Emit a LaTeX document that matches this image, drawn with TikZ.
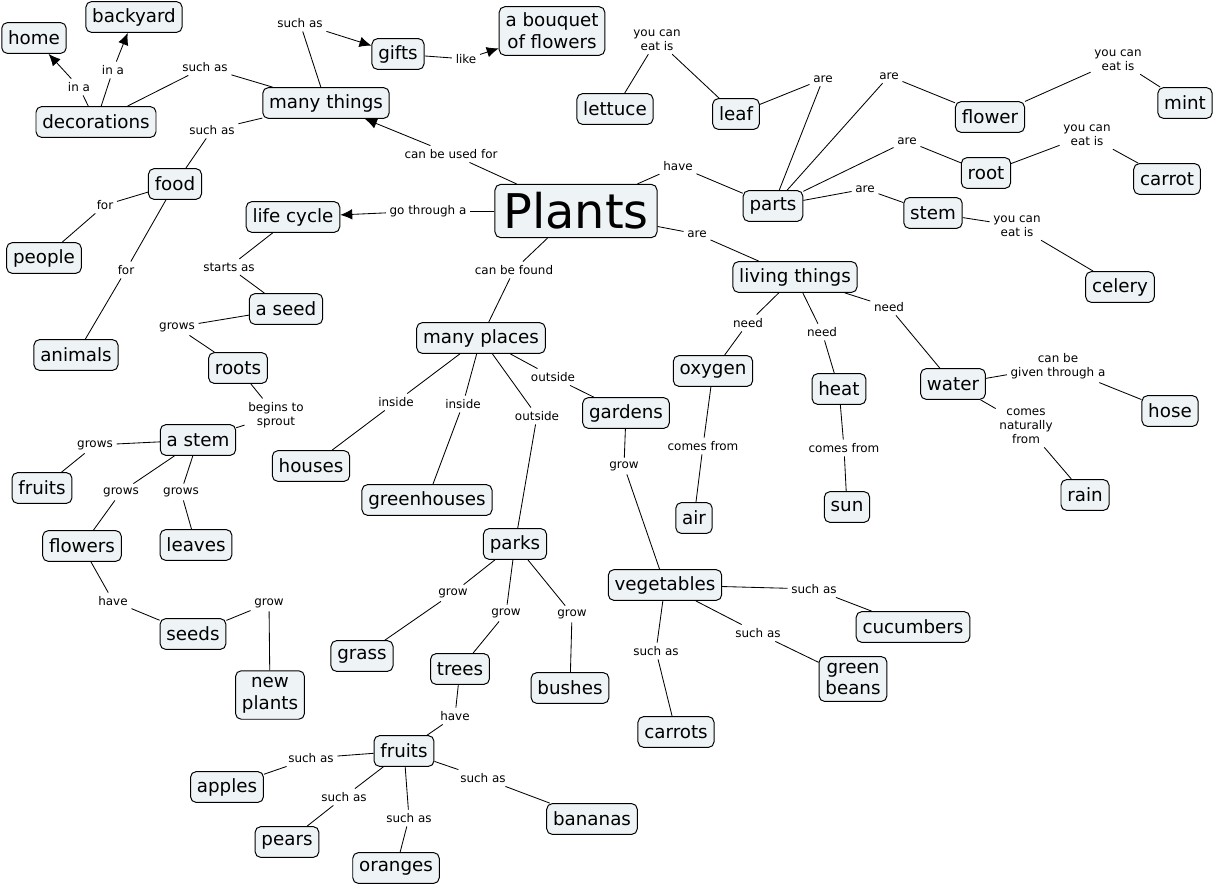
\documentclass[tikz,border=0pt]{standalone}
\usepackage{fontspec}
\setmainfont{DejaVu Sans}
\usetikzlibrary{arrows.meta}
\definecolor{conceptfill}{HTML}{EEF3F5}

\begin{document}
\begin{tikzpicture}[
                x=0.025cm, y=-0.025cm,
                concept/.style = {rectangle, rounded corners=4pt, draw, line width=0.7pt, fill=conceptfill, align=center, font=\fontsize{13}{15.5}\selectfont, inner xsep=4.5pt, inner ysep=4.5pt, minimum height=0.77cm},
                linkword/.style = {inner sep=2.5pt, align=center, font=\fontsize{8.5}{10}\selectfont},
                link/.style = {line width=0.6pt},
                linkto/.style = {line width=0.6pt, -{Latex[length=8.5pt,width=7.5pt]}}
        ]
        \useasboundingbox (0,0) rectangle (1216,888);

        % concepts
        \node[concept, font=\fontsize{34}{36}\selectfont, minimum width=4.05cm, minimum height=1.33cm, inner sep=0pt] (plants) at (576,211) {Plants};
        \node[concept] (home) at (34,38) {home};
        \node[concept] (backyard) at (134,17) {backyard};
        \node[concept] (decorations) at (96,122) {decorations};
        \node[concept] (things) at (326,103) {many things};
        \node[concept] (gifts) at (398,54) {gifts};
        \node[concept] (bouquet) at (552,31) {a bouquet\\of flowers};
        \node[concept] (food) at (175,184) {food};
        \node[concept] (people) at (44,258) {people};
        \node[concept] (animals) at (76,355) {animals};
        \node[concept] (cycle) at (293,217) {life cycle};
        \node[concept] (seed) at (286,309) {a seed};
        \node[concept] (roots) at (238,368) {roots};
        \node[concept] (astem) at (198,440) {a stem};
        \node[concept] (fruitsA) at (42,488) {fruits};
        \node[concept] (flowers) at (82,546) {flowers};
        \node[concept] (leaves) at (196,545) {leaves};
        \node[concept] (seeds) at (193,634) {seeds};
        \node[concept] (newplants) at (270,695) {new\\plants};
        \node[concept] (places) at (481,338) {many places};
        \node[concept] (houses) at (311,466) {houses};
        \node[concept] (greenhouses) at (427,500) {greenhouses};
        \node[concept] (gardens) at (626,413) {gardens};
        \node[concept] (parks) at (515,544) {parks};
        \node[concept] (grass) at (362,656) {grass};
        \node[concept] (trees) at (460,669) {trees};
        \node[concept] (bushes) at (570,688) {bushes};
        \node[concept] (fruitsB) at (404,751) {fruits};
        \node[concept] (apples) at (227,787) {apples};
        \node[concept] (pears) at (287,842) {pears};
        \node[concept] (oranges) at (396,868) {oranges};
        \node[concept] (bananas) at (592,819) {bananas};
        \node[concept] (vegetables) at (665,585) {vegetables};
        \node[concept] (cucumbers) at (913,627) {cucumbers};
        \node[concept] (beans) at (853,679) {green\\beans};
        \node[concept] (carrots) at (676,732) {carrots};
        \node[concept] (living) at (795,277) {living things};
        \node[concept] (oxygen) at (713,371) {oxygen};
        \node[concept] (heat) at (839,389) {heat};
        \node[concept] (water) at (953,384) {water};
        \node[concept] (air) at (694,518) {air};
        \node[concept] (sun) at (847,507) {sun};
        \node[concept] (hose) at (1170,411) {hose};
        \node[concept] (rain) at (1085,495) {rain};
        \node[concept] (parts) at (773,206) {parts};
        \node[concept] (stem) at (933,213) {stem};
        \node[concept] (root) at (986,173) {root};
        \node[concept] (flower) at (990,117) {flower};
        \node[concept] (leaf) at (736,114) {leaf};
        \node[concept] (lettuce) at (615,109) {lettuce};
        \node[concept] (mint) at (1185,103) {mint};
        \node[concept] (carrot) at (1167,179) {carrot};
        \node[concept] (celery) at (1120,287) {celery};

        % linking words
        \node[linkword] (inHome) at (79,87) {in a};
        \node[linkword] (inYard) at (113,70) {in a};
        \node[linkword] (suchDeco) at (205,67) {such as};
        \node[linkword] (suchGifts) at (300,23) {such as};
        \node[linkword] (like) at (466,59) {like};
        \node[linkword] (suchFood) at (212,130) {such as};
        \node[linkword] (usedFor) at (451,154) {can be used for};
        \node[linkword] (goThrough) at (428,211) {go through a};
        \node[linkword] (forPeople) at (105,205) {for};
        \node[linkword] (forAnimals) at (126,270) {for};
        \node[linkword] (startsAs) at (229,267) {starts as};
        \node[linkword] (growsRoots) at (177,327) {grows};
        \node[linkword] (sprout) at (276,415) {begins to\\sprout};
        \node[linkword] (growsFruits) at (95,445) {grows};
        \node[linkword] (growsFlowers) at (121,492) {grows};
        \node[linkword] (growsLeaves) at (181,492) {grows};
        \node[linkword] (haveSeeds) at (113,601) {have};
        \node[linkword] (growNew) at (269,603) {grow};
        \node[linkword] (found) at (514,270) {can be found};
        \node[linkword] (inHouses) at (396,402) {inside};
        \node[linkword] (inGreen) at (463,404) {inside};
        \node[linkword] (outParks) at (537,416) {outside};
        \node[linkword] (outGardens) at (553,377) {outside};
        \node[linkword] (growGrass) at (453,593) {grow};
        \node[linkword] (growTrees) at (506,613) {grow};
        \node[linkword] (growBushes) at (572,614) {grow};
        \node[linkword] (haveFruits) at (455,716) {have};
        \node[linkword] (suchApples) at (311,758) {such as};
        \node[linkword] (suchPears) at (344,797) {such as};
        \node[linkword] (suchOranges) at (409,818) {such as};
        \node[linkword] (suchBananas) at (483,778) {such as};
        \node[linkword] (growVeg) at (624,466) {grow};
        \node[linkword] (suchCuc) at (814,589) {such as};
        \node[linkword] (suchBeans) at (758,633) {such as};
        \node[linkword] (suchCarrots) at (656,651) {such as};
        \node[linkword] (areLiving) at (697,234) {are};
        \node[linkword] (needOxygen) at (748,323) {need};
        \node[linkword] (needHeat) at (822,332) {need};
        \node[linkword] (needWater) at (889,307) {need};
        \node[linkword] (fromAir) at (703,446) {comes from};
        \node[linkword] (fromSun) at (844,448) {comes from};
        \node[linkword] (through) at (1058,366) {can be\\given through a};
        \node[linkword] (naturally) at (1026,426) {comes\\naturally\\from};
        \node[linkword] (haveParts) at (678,166) {have};
        \node[linkword] (areLeaf) at (823,79) {are};
        \node[linkword] (areFlower) at (889,76) {are};
        \node[linkword] (areRoot) at (907,141) {are};
        \node[linkword] (areStem) at (865,189) {are};
        \node[linkword] (eatLettuce) at (657,40) {you can\\eat is};
        \node[linkword] (eatMint) at (1118,60) {you can\\eat is};
        \node[linkword] (eatCarrot) at (1087,135) {you can\\eat is};
        \node[linkword] (eatCelery) at (1017,226) {you can\\eat is};

        % connectors
        \draw[link] (decorations) -- (inHome); \draw[linkto] (inHome) -- (home);
        \draw[link] (decorations) -- (inYard); \draw[linkto] (inYard) -- (backyard);
        \draw[link] (things) -- (suchDeco) (suchDeco) -- (decorations);
        \draw[link] (things) -- (suchGifts); \draw[linkto] (suchGifts) -- (gifts);
        \draw[link] (gifts) -- (like); \draw[linkto] (like) -- (bouquet);
        \draw[link] (things) -- (suchFood) (suchFood) -- (food);
        \draw[link] (plants) -- (usedFor); \draw[linkto] (usedFor) -- (things);
        \draw[link] (plants) -- (goThrough); \draw[linkto] (goThrough) -- (cycle);
        \draw[link] (food) -- (forPeople) (forPeople) -- (people);
        \draw[link] (food) -- (forAnimals) (forAnimals) -- (animals);
        \draw[link] (cycle) -- (startsAs) (startsAs) -- (seed);
        \draw[link] (seed) -- (growsRoots) (growsRoots) -- (roots);
        \draw[link] (roots) -- (sprout) (sprout) -- (astem);
        \draw[link] (astem) -- (growsFruits) (growsFruits) -- (fruitsA);
        \draw[link] (astem) -- (growsFlowers) (growsFlowers) -- (flowers);
        \draw[link] (astem) -- (growsLeaves) (growsLeaves) -- (leaves);
        \draw[link] (flowers) -- (haveSeeds) (haveSeeds) -- (seeds);
        \draw[link] (seeds) -- (growNew) (growNew) -- (newplants);
        \draw[link] (plants) -- (found) (found) -- (places);
        \draw[link] (places) -- (inHouses) (inHouses) -- (houses);
        \draw[link] (places) -- (inGreen) (inGreen) -- (greenhouses);
        \draw[link] (places) -- (outParks) (outParks) -- (parks);
        \draw[link] (places) -- (outGardens) (outGardens) -- (gardens);
        \draw[link] (parks) -- (growGrass) (growGrass) -- (grass);
        \draw[link] (parks) -- (growTrees) (growTrees) -- (trees);
        \draw[link] (parks) -- (growBushes) (growBushes) -- (bushes);
        \draw[link] (trees) -- (haveFruits) (haveFruits) -- (fruitsB);
        \draw[link] (fruitsB) -- (suchApples) (suchApples) -- (apples);
        \draw[link] (fruitsB) -- (suchPears) (suchPears) -- (pears);
        \draw[link] (fruitsB) -- (suchOranges) (suchOranges) -- (oranges);
        \draw[link] (fruitsB) -- (suchBananas) (suchBananas) -- (bananas);
        \draw[link] (gardens) -- (growVeg) (growVeg) -- (vegetables);
        \draw[link] (vegetables) -- (suchCuc) (suchCuc) -- (cucumbers);
        \draw[link] (vegetables) -- (suchBeans) (suchBeans) -- (beans);
        \draw[link] (vegetables) -- (suchCarrots) (suchCarrots) -- (carrots);
        \draw[link] (plants) -- (areLiving) (areLiving) -- (living);
        \draw[link] (living) -- (needOxygen) (needOxygen) -- (oxygen);
        \draw[link] (living) -- (needHeat) (needHeat) -- (heat);
        \draw[link] (living) -- (needWater) (needWater) -- (water);
        \draw[link] (oxygen) -- (fromAir) (fromAir) -- (air);
        \draw[link] (heat) -- (fromSun) (fromSun) -- (sun);
        \draw[link] (water) -- (through) (through) -- (hose);
        \draw[link] (water) -- (naturally) (naturally) -- (rain);
        \draw[link] (plants) -- (haveParts) (haveParts) -- (parts);
        \draw[link] (parts) -- (areLeaf) (areLeaf) -- (leaf);
        \draw[link] (parts) -- (areFlower) (areFlower) -- (flower);
        \draw[link] (parts) -- (areRoot) (areRoot) -- (root);
        \draw[link] (parts) -- (areStem) (areStem) -- (stem);
        \draw[link] (leaf) -- (eatLettuce) (eatLettuce) -- (lettuce);
        \draw[link] (flower) -- (eatMint) (eatMint) -- (mint);
        \draw[link] (root) -- (eatCarrot) (eatCarrot) -- (carrot);
        \draw[link] (stem) -- (eatCelery) (eatCelery) -- (celery);
\end{tikzpicture}
\end{document}
